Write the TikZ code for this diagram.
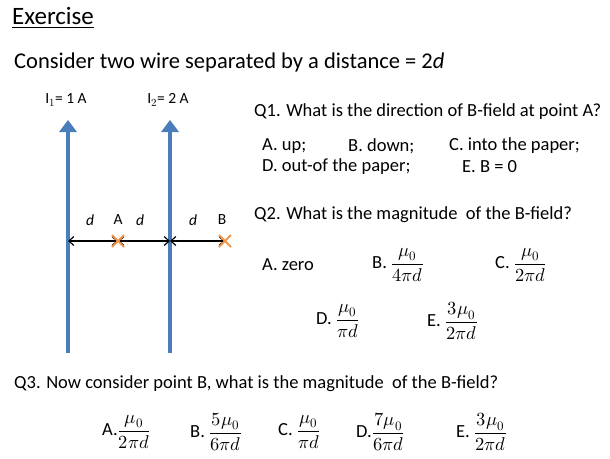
\documentclass[tikz,border=0pt]{standalone}
\usepackage{fontspec}
\setmainfont{Carlito}
\usepackage{unicode-math}
\setmathfont{Latin Modern Math}
\usetikzlibrary{arrows.meta,calc}
\begin{document}
\begin{tikzpicture}[x=1pt,y=-1pt,
  wire/.style={line width=3.5pt,draw={rgb,255:red,74;green,126;blue,187},-{Stealth[length=12pt,width=18pt,inset=0pt,line width=0pt]}},
  dim/.style={line width=1.2pt,{Straight Barb[length=5pt,width=9pt]}-{Straight Barb[length=5pt,width=9pt]}},
  cross/.style={draw={rgb,255:red,247;green,150;blue,70},line width=2pt},
  txt/.style={anchor=west,inner sep=0pt,font=\fontsize{18.5}{21}\selectfont},
  lab/.style={inner sep=0pt,font=\fontsize{15.5}{17}\selectfont}]
\useasboundingbox (0,0) rectangle (610,458);
\node[anchor=west,inner sep=0pt,font=\fontsize{25}{27}\selectfont] (ex) at (12,18) {\underline{Exercise}};
\node[anchor=west,inner sep=0pt,font=\fontsize{22.5}{24}\selectfont] (cons) at (14,62) {Consider two wire separated by a distance = 2\textit{d}};
\node[lab] (i1) at (66,100) {I$_1$= 1 A};
\node[lab] (i2) at (168,100) {I$_2$= 2 A};
\coordinate (w1b) at (68,353); \coordinate (w1t) at (68,120);
\coordinate (w2b) at (170,353); \coordinate (w2t) at (170,120);
\draw[wire] (w1b) -- (w1t);
\draw[wire] (w2b) -- (w2t);
\coordinate (pa) at (118,241); \coordinate (pb) at (225,241);
\coordinate (l1) at (68,241); \coordinate (l2) at (170,241);
\draw[dim] (l1) -- (pa);
\draw[dim] (pa) -- (l2);
\draw[dim] (l2) -- (pb);
\foreach \p in {pa,pb}{\draw[cross] ($(\p)+(-6,-6)$) -- ($(\p)+(6,6)$) ($(\p)+(-6,6)$) -- ($(\p)+(6,-6)$);}
\node[lab] (d1) at (90,220) {\textit{d}};
\node[lab] (la) at (118,220) {A};
\node[lab] (d2) at (140,220) {\textit{d}};
\node[lab] (d3) at (193,220) {\textit{d}};
\node[lab] (lb) at (222,220) {B};
\node[txt] (q1) at (254,112) {Q1. What is the direction of B-field at point A?};
\node[txt] (q1a) at (262,146) {A.\ up;};
\node[txt] (q1b) at (348,146) {B. down;};
\node[txt] (q1c) at (449,146) {C. into the paper;};
\node[txt] (q1d) at (262,167) {D. out-of the paper;};
\node[txt] (q1e) at (462,167) {E. B = 0};
\node[txt] (q2) at (254,215) {Q2. What is the magnitude\ \ of the B-field?};
\node[txt] (q2a) at (262,265) {A. zero};
\node[txt] (q2b) at (372,265) {B. $\displaystyle\frac{\mu_0}{4\pi d}$};
\node[txt] (q2c) at (495,265) {C. $\displaystyle\frac{\mu_0}{2\pi d}$};
\node[txt] (q2d) at (316,321) {D. $\displaystyle\frac{\mu_0}{\pi d}$};
\node[txt] (q2e) at (427,321) {E. $\displaystyle\frac{3\mu_0}{2\pi d}$};
\node[txt] (q3) at (14,384) {Q3. Now consider point B, what is the magnitude\ \ of the B-field?};
\node[txt] (q3a) at (102,432) {A.$\displaystyle\frac{\mu_0}{2\pi d}$};
\node[txt] (q3b) at (190,432) {B. $\displaystyle\frac{5\mu_0}{6\pi d}$};
\node[txt] (q3c) at (278,432) {C. $\displaystyle\frac{\mu_0}{\pi d}$};
\node[txt] (q3d) at (356,432) {D.$\displaystyle\frac{7\mu_0}{6\pi d}$};
\node[txt] (q3e) at (456,432) {E. $\displaystyle\frac{3\mu_0}{2\pi d}$};
\end{tikzpicture}
\end{document}
